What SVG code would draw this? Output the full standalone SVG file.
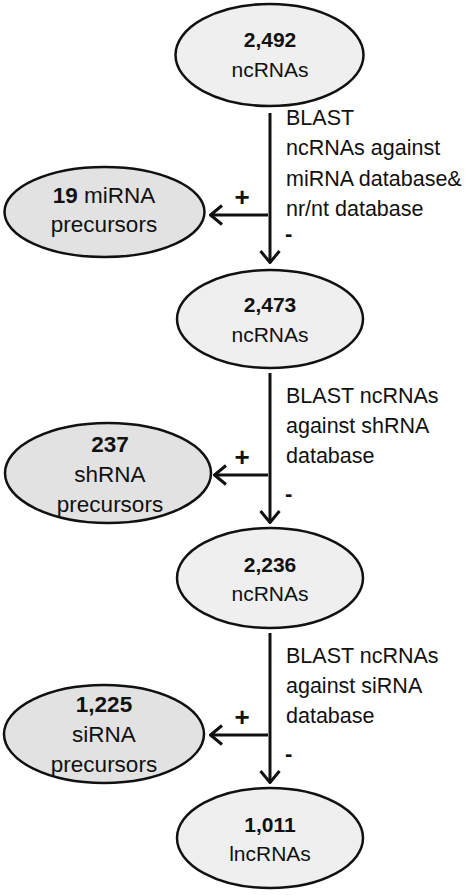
<svg xmlns="http://www.w3.org/2000/svg" width="474" height="895" viewBox="0 0 474 895">
<style>
text{font-family:"Liberation Sans",Arial,sans-serif;fill:#111}
.main{fill:#efefef;stroke:#111;stroke-width:2.5}
.side{fill:#e2e2e2;stroke:#111;stroke-width:2.5}
.c{text-anchor:middle;font-size:21px}
.b{font-weight:bold}
.s{text-anchor:middle;font-size:22.5px}
.lbl{font-size:21.5px}
.sign{font-weight:bold;font-size:26px;text-anchor:middle}
.minus{font-weight:bold;font-size:22px}
.line{stroke:#111;stroke-width:3;fill:none}
</style>
<defs>
<marker id="arr" viewBox="0 0 14 22" refX="13" refY="11" markerWidth="14" markerHeight="22" orient="auto" markerUnits="userSpaceOnUse">
<path d="M1,1.5 L12.5,11 L1,20.5" fill="none" stroke="#111" stroke-width="3"/>
</marker>
</defs>
<rect width="474" height="895" fill="#fff"/>
<g id="connectors">
<line class="line" x1="270" y1="113" x2="270" y2="263" marker-end="url(#arr)"/>
<line class="line" x1="268" y1="215" x2="210" y2="215" marker-end="url(#arr)"/>
<line class="line" x1="270" y1="373" x2="270" y2="523" marker-end="url(#arr)"/>
<line class="line" x1="268" y1="475" x2="214" y2="475" marker-end="url(#arr)"/>
<line class="line" x1="270" y1="633" x2="270" y2="783" marker-end="url(#arr)"/>
<line class="line" x1="268" y1="735" x2="210" y2="735" marker-end="url(#arr)"/>
<text class="sign" x="242" y="206">+</text>
<text class="sign" x="242" y="466">+</text>
<text class="sign" x="242" y="726">+</text>
<text class="minus" x="285" y="241">-</text>
<text class="minus" x="285" y="501">-</text>
<text class="minus" x="285" y="761">-</text>
<text class="lbl" x="286" y="125">BLAST</text>
<text class="lbl" x="286" y="155">ncRNAs against</text>
<text class="lbl" x="286" y="186">miRNA database&amp;</text>
<text class="lbl" x="286" y="216">nr/nt database</text>
<text class="lbl" x="286" y="403">BLAST ncRNAs</text>
<text class="lbl" x="286" y="433">against shRNA</text>
<text class="lbl" x="286" y="463">database</text>
<text class="lbl" x="286" y="663">BLAST ncRNAs</text>
<text class="lbl" x="286" y="693">against siRNA</text>
<text class="lbl" x="286" y="723">database</text>
</g>
<g id="n1">
<ellipse class="main" cx="269.5" cy="55" rx="94" ry="51"/>
<text class="c b" x="270" y="47" font-size="22px">2,492</text>
<text class="c" x="270" y="77">ncRNAs</text>
</g>
<g id="n2">
<ellipse class="side" cx="104.5" cy="212" rx="100" ry="45"/>
<text class="s" x="104" y="203"><tspan font-weight="bold">19</tspan> miRNA</text>
<text class="s" x="104" y="232">precursors</text>
</g>
<g id="n3">
<ellipse class="main" cx="270" cy="319" rx="93" ry="49"/>
<text class="c b" x="270" y="312" font-size="22px">2,473</text>
<text class="c" x="270" y="342">ncRNAs</text>
</g>
<g id="n4">
<ellipse class="side" cx="108" cy="473" rx="103" ry="50"/>
<text class="s b" x="110" y="452">237</text>
<text class="s" x="110" y="482">shRNA</text>
<text class="s" x="110" y="512">precursors</text>
</g>
<g id="n5">
<ellipse class="main" cx="270" cy="578" rx="93" ry="50"/>
<text class="c b" x="270" y="572" font-size="22px">2,236</text>
<text class="c" x="270" y="601">ncRNAs</text>
</g>
<g id="n6">
<ellipse class="side" cx="104" cy="734" rx="100" ry="49"/>
<text class="s b" x="104" y="712">1,225</text>
<text class="s" x="104" y="742">siRNA</text>
<text class="s" x="104" y="772">precursors</text>
</g>
<g id="n7">
<ellipse class="main" cx="270" cy="838" rx="93" ry="50"/>
<text class="c b" x="270" y="832" font-size="22px">1,011</text>
<text class="c" x="270" y="861">lncRNAs</text>
</g>
</svg>
